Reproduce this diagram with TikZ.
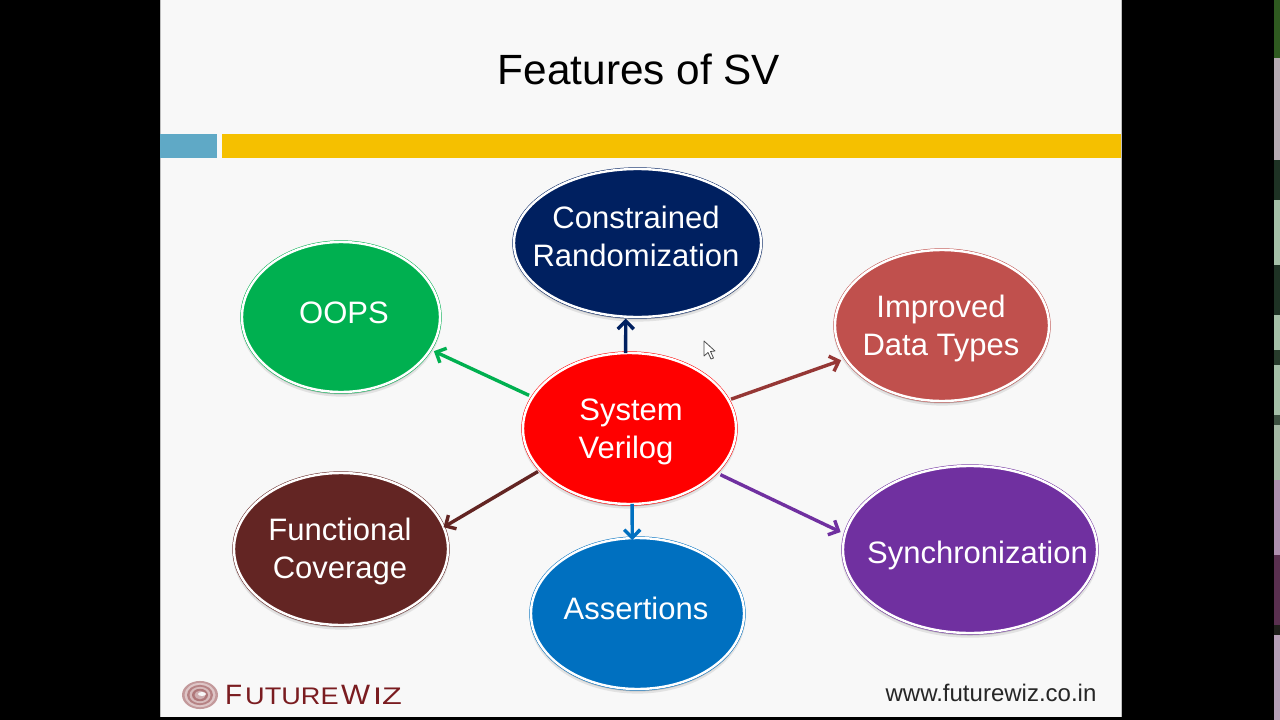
\documentclass[tikz,border=0pt]{standalone}
\usepackage{fontspec}
\usepackage{graphicx}
\setmainfont{Liberation Sans}
\usetikzlibrary{shapes.geometric,shadows,arrows.meta,calc}
\definecolor{slidebg}{HTML}{F8F8F8}
\definecolor{tealbar}{HTML}{5FA9C6}
\definecolor{goldbar}{HTML}{F5C000}
\definecolor{navyc}{HTML}{002060}
\definecolor{greenc}{HTML}{00B050}
\definecolor{brickc}{HTML}{C0504D}
\definecolor{redc}{HTML}{FF0000}
\definecolor{maroonc}{HTML}{632523}
\definecolor{bluec}{HTML}{0070C0}
\definecolor{purplec}{HTML}{7030A0}
\definecolor{brownarrow}{HTML}{953735}
\definecolor{logoc}{HTML}{7A1C20}
\newcommand{\tline}[3]{\smash{\raisebox{-#2pt}{\makebox[0pt]{\kern#1pt\kern#1pt #3}}}}
\tikzset{
  x=1pt,y=-1pt,
  feature/.style={ellipse,inner sep=0pt,outer sep=0pt,align=center,text=white,
    font=\fontsize{31}{38}\selectfont,draw=#1,fill=#1,line width=.5pt,double=white,double distance=2.4pt,
    general shadow={fill=black!60,opacity=.15,shadow yshift=-3.5pt,shadow scale=1.014},
    general shadow={fill=black!60,opacity=.3,shadow yshift=-2pt,shadow scale=1.006}},
  link/.style={draw=#1,line width=3.4pt,-{Straight Barb[length=8pt,width=16pt,line width=3.4pt]}},
  logotext/.style={text=logoc,inner sep=0pt,anchor=base west}
}
\begin{document}
\begin{tikzpicture}
\useasboundingbox (0,0) rectangle (1280,720);
\fill[black] (0,0) rectangle (1280,720);
% slide
\fill[slidebg] (160,0) rectangle (1121,717);
\fill[black!25] (1121,0) rectangle (1122,717);
\fill[black!25] (160,0) rectangle (161,717);
\fill[tealbar] (160,134) rectangle (217,158);
\fill[goldbar] (222,134) rectangle (1121,158);
% strip at right edge
\foreach \ya/\yb/\c in {0/58/2F5A20,58/160/B8ACB4,160/200/1E3224,200/265/A5C0A8,265/315/1E3224,315/350/A5C0A8,350/365/283C2C,365/415/A5C0A8,415/425/3C5040,425/480/A5B9A5,480/555/B090B0,555/625/5A3050,625/635/1E1E1A,635/720/B8A0B8}{
  \definecolor{bandc}{HTML}{\c}
  \fill[bandc] (1274,\ya) rectangle (1280,\yb);
}
% title
\node[font=\fontsize{42.3}{50}\selectfont,text=black,inner sep=0pt] (title) at (639,69) {Features of SV};
% ellipses
\node[feature=navyc,minimum width=247pt,minimum height=148pt] (cr) at (637.5,243) {\tline{-1.5}{4}{Constrained}\\\tline{-1.5}{4}{Randomization}};
\node[feature=greenc,minimum width=198pt,minimum height=150pt] (oops) at (341,317) {\tline{3}{6}{OOPS}};
\node[feature=brickc,minimum width=214pt,minimum height=151pt] (dt) at (942,325.5) {\tline{-1}{10.5}{Improved}\\\tline{-1}{10.5}{Data Types}};
\node[feature=redc,minimum width=213pt,minimum height=151pt] (sv) at (629.5,428.5) {\tline{1.5}{10.5}{System}\\\tline{-3.5}{10.5}{Verilog}};
\node[feature=maroonc,minimum width=214pt,minimum height=152pt] (fc) at (341,549) {\tline{-1}{10}{Functional}\\\tline{-1}{10}{Coverage}};
\node[feature=bluec,minimum width=213pt,minimum height=151pt] (as) at (637.5,613.5) {\tline{-1.5}{5.5}{Assertions}};
\node[feature=purplec,minimum width=254pt,minimum height=167pt] (sy) at (970,549.5) {\tline{7.5}{14}{Synchronization}};
% connectors
\draw[link=navyc,shorten >=2pt] (sv.93.4) -- (cr.-99.2);
\draw[link=greenc,shorten >=4pt,shorten <=4pt] (sv.162.1) -- (oops.-20.6);
\draw[link=brownarrow,shorten >=5pt,shorten <=3pt] (sv.16.6) -- (dt.199.7);
\draw[link=purplec,shorten >=5pt,shorten <=5pt] (sv.-27.7) -- (sy.173.6);
\draw[link=maroonc,shorten <=3pt] (sv.205.7) -- (fc.12.2);
\draw[link=bluec,shorten >=-2pt] (sv.-88.1) -- (as.94.3);
% footer
\node[font=\fontsize{24}{28}\selectfont,text=black!85,inner sep=0pt] (url) at (991,693) {www.futurewiz.co.in};
% logo
\foreach \r/\c in {18/45,15.5/25,13/55,10.5/30,8/60,5.5/35}{
  \fill[logoc!\c!white] (200,695) ellipse ({\r pt} and {\r*.78 pt});
}
\fill[slidebg] (202,694) ellipse (4pt and 2pt);
\node[logotext,font=\fontsize{28}{28}\selectfont] (lf) at (225,704) {F};
\node[logotext,font=\fontsize{24}{24}\selectfont] (lu) at (245,704) {\scalebox{1.13}[1]{UTURE}};
\node[logotext,font=\fontsize{28}{28}\selectfont] (lw) at (341,704) {\scalebox{1.1}[1]{W}};
\node[logotext,font=\fontsize{24}{24}\selectfont] (li) at (373,704) {\scalebox{1.35}[1]{IZ}};
% pointer
\draw[fill=white,draw=black!70,line width=.8pt,line join=round]
  (704,341) -- (704,356) -- (708,352.5) -- (711,359) -- (713.5,358) -- (710.5,351.5) -- (715,351) -- cycle;
\end{tikzpicture}
\end{document}
